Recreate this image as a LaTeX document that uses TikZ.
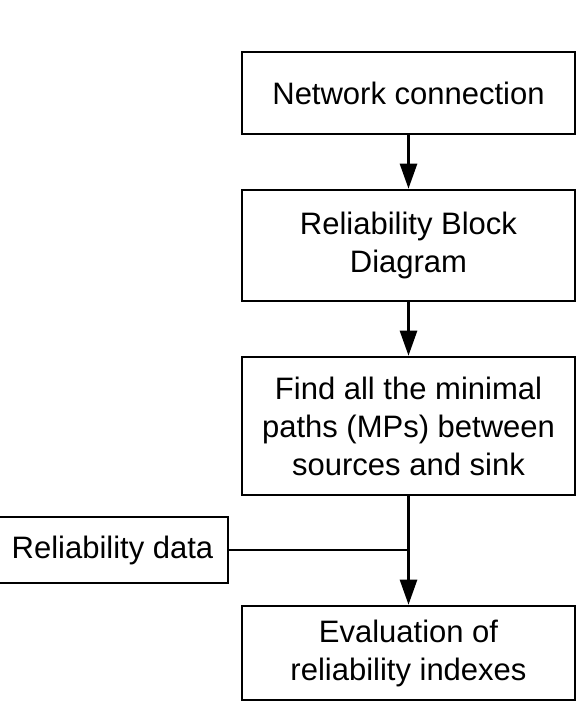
\documentclass[tikz,border=0pt]{standalone}
\usepackage{fontspec}
\setmainfont{Liberation Sans}
\usetikzlibrary{arrows.meta}
\begin{document}
\begin{tikzpicture}[x=1pt,y=-1pt,
    block/.style={draw,line width=2.6pt,align=center,inner sep=0pt,
      minimum width=333pt,font=\fontsize{31}{38}\selectfont},
    flow/.style={line width=2.6pt,-{Triangle[width=17pt,length=25pt]}}]
    \useasboundingbox (0,0) rectangle (584,719);
    % Blocks
    \node[block,minimum height=82pt] (net) at (408.5,93) {Network connection};
    \node[block,minimum height=111pt] (rbd) at (408.5,245.5) {Reliability Block\\Diagram};
    \node[block,minimum height=138pt] (mps) at (408.5,426) {Find all the minimal\\paths (MPs) between\\sources and sink};
    \node[block,minimum height=94pt] (eval) at (408.5,653) {Evaluation of\\reliability indexes};
    \node[block,minimum width=231pt,minimum height=66pt] (data) at (112.5,550) {Reliability data};
    % Connectors
    \draw[flow] (net) -- (rbd);
    \draw[flow] (rbd) -- (mps);
    \draw[flow] (mps) -- (eval);
    \coordinate (join) at (data.east -| mps.south);
    \draw[line width=2.6pt] (data.east) -- (join);
\end{tikzpicture}
\end{document}
